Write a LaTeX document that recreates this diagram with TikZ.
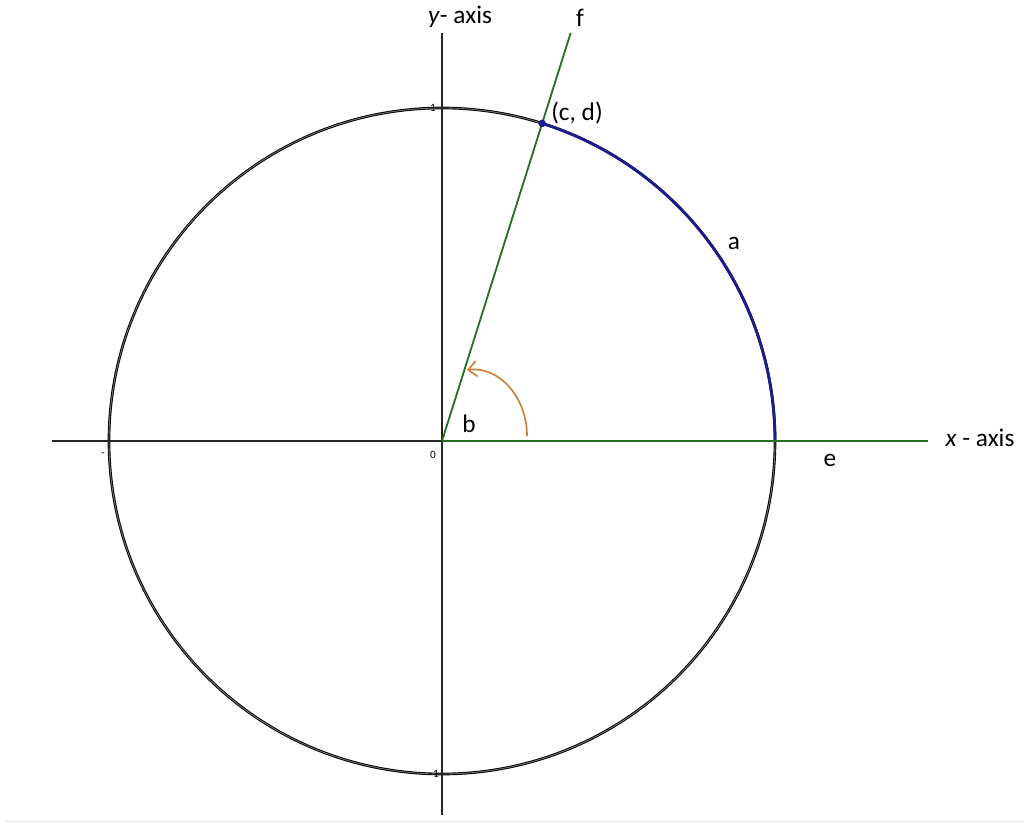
\documentclass[tikz,border=0pt]{standalone}
\usepackage{fontspec}
\setmainfont{Carlito}
\usetikzlibrary{arrows.meta}
\definecolor{raygreen}{RGB}{38,112,38}
\definecolor{arcblue}{RGB}{28,28,138}
\definecolor{angorange}{RGB}{206,128,62}
\tikzset{
	circ/.style={line width=0.65pt, double=black!55, double distance=0.6pt},
	axis/.style={line width=1.2pt, black!85},
	ray/.style={line width=1.3pt, raygreen},
	arcline/.style={line width=2pt, arcblue},
	angarrow/.style={line width=1.2pt, angorange, -{Straight Barb[length=6pt, width=11pt, line width=1.2pt]}},
	lab/.style={font=\fontsize{18}{22}\selectfont, inner sep=0pt},
	tick/.style={font=\fontsize{8}{9}\selectfont, inner sep=0pt}
}
\begin{document}
\begin{tikzpicture}[x=0.025cm, y=0.025cm]
	% Rahmen
	\useasboundingbox (-442,-382) rectangle (582,441);
	\fill[black!5] (-437,-382) rectangle (582,-379);
	% Kreis
	\draw[circ] (0,0) circle [radius=333];
	% Achsen
	\coordinate (O) at (0,0);
	\coordinate (xl) at (-390,0);
	\coordinate (xr) at (486,0);
	\coordinate (yt) at (0,408);
	\coordinate (yb) at (0,-374);
	\draw[axis] (xl) -- (O);
	\draw[axis] (yb) -- (yt);
	% Bogen
	\coordinate (E) at (333,0);
	\draw[arcline] (E) arc [start angle=0, end angle=72.5, radius=333] coordinate (P);
	% Strahlen
	\coordinate (F) at (72.5:428);
	\draw[ray] (O) -- (xr);
	\draw[ray] (O) -- (F);
	\fill[arcblue] (P) circle [radius=3.8];
	% Winkel
	\coordinate (w1) at (85,5);
	\coordinate (w2) at (25,71);
	\draw[angarrow] (w1) .. controls (85,45) and (56,75) .. (w2);
	% Beschriftung
	\node[lab] (ylab) at (18,424) {\textit{y}- axis};
	\node[lab] (flab) at (138,423) {f};
	\node[lab] (cd) at (135,328) {(c, d)};
	\node[lab] (alab) at (292,198) {a};
	\node[lab] (blab) at (27,17) {b};
	\node[lab] (elab) at (388,-19) {e};
	\node[lab] (xlab) at (538,3) {\textit{x} - axis};
	% Skala
	\node[tick] (t1) at (-9,333) {1};
	\node[tick] (t2) at (-339,-14) {-};
	\node[tick] (t3) at (-9,-14) {0};
	\node[tick, anchor=east] (t4) at (-3,-333) {-1};
\end{tikzpicture}
\end{document}
